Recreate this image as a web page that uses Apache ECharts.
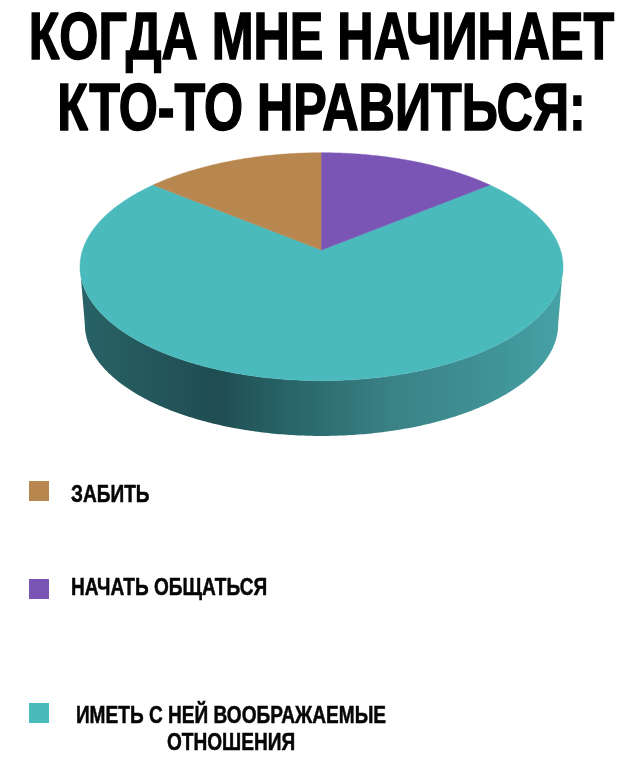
<!DOCTYPE html>
<html><head><meta charset="utf-8">
<script src="https://cdn.jsdelivr.net/npm/echarts@6/dist/echarts.min.js"></script>
<style>html,body{margin:0;padding:0;background:#fff}#c{width:644px;height:768px}</style></head>
<body><div id="c"></div>
<script>
const titleLines = ['КОГДА МНЕ НАЧИНАЕТ', 'КТО-ТО НРАВИТЬСЯ:'];
const categories = ['ЗАБИТЬ', 'НАЧАТЬ ОБЩАТЬСЯ', 'ИМЕТЬ С НЕЙ ВООБРАЖАЕМЫЕ\nОТНОШЕНИЯ'];
const shares = [14, 14, 72];
const colors = ['#B8874F', '#7A55B5', '#4BBABD'];
const rimStops = ['#286266', '#1F4D51', '#2A696D', '#3A8286', '#3F9296', '#46A1A4'];
const FONT = '"Liberation Sans",sans-serif';

// Slices run clockwise from 12 o'clock: purple, teal, then brown closes the circle.
const drawOrder = [1, 2, 0];
const total = shares.reduce((a, b) => a + b, 0);
const ranges = {};
let acc = 0;
drawOrder.forEach(i => {
  const start = acc / total * Math.PI * 2;
  acc += shares[i];
  ranges[i] = [start, acc / total * Math.PI * 2];
});

// Perspective projection of the disc
const CX = 321.5, CY = 250, A = 238.9, B = 111.5, K = 0.1465;
const RIM_SCALE = 0.98, RIM_DY = 57.9;
function project(t, rim) {
  const u = Math.sin(t), v = Math.cos(t), w = 1 + K * v;
  const s = rim ? RIM_SCALE : 1, dy = rim ? RIM_DY : 0;
  return [CX + s * A * u / w, CY - s * B * v / w + dy];
}
function arc(a, b, rim) {
  const pts = [], n = Math.max(2, Math.ceil(Math.abs(b - a) / 0.01));
  for (let i = 0; i <= n; i++) pts.push(project(a + (b - a) * i / n, rim));
  return pts;
}
const rimFrom = Math.acos(-K), rimTo = Math.PI * 2 - rimFrom;
const rimFill = new echarts.graphic.LinearGradient(85, 0, 558, 0,
  rimStops.map((c, i) => ({ offset: [0, 0.28, 0.46, 0.65, 0.85, 1][i], color: c })), true);

function sliceRenderer(idx) {
  return function () {
    const [a, b] = ranges[idx];
    const children = [];
    const ra = Math.max(a, rimFrom), rb = Math.min(b, rimTo);
    if (rb > ra) {
      children.push({
        type: 'polygon',
        shape: { points: arc(ra, rb, false).concat(arc(rb, ra, true)) },
        style: { fill: rimFill }
      });
    }
    children.push({
      type: 'polygon',
      shape: { points: [[CX, CY]].concat(arc(a, b, false)) },
      style: { fill: colors[idx], stroke: colors[idx], lineWidth: 0.5 }
    });
    return { type: 'group', children };
  };
}

function titleText(line, y, cx) {
  return {
    type: 'text', x: cx, y, scaleX: 0.75, silent: true,
    style: {
      text: line, font: 'bold 67px ' + FONT, fill: '#000',
      stroke: '#000', lineWidth: 1.6, align: 'center', verticalAlign: 'top'
    }
  };
}
function swatch(i, y) {
  return { type: 'rect', silent: true, shape: { x: 29, y, width: 20, height: 20 }, style: { fill: colors[i] } };
}
function legendText(i, x, y, align) {
  return {
    type: 'text', x, y, scaleX: 0.795, silent: true,
    style: {
      text: categories[i], font: 'bold 24px ' + FONT, fill: '#050505', stroke: '#050505', lineWidth: 0.5,
      lineHeight: 26.5, align, verticalAlign: 'middle'
    }
  };
}

const chart = echarts.init(document.getElementById('c'), null, { renderer: 'canvas' });
chart.setOption({
  animation: false,
  backgroundColor: '#fff',
  graphic: [
    titleText(titleLines[0], 7, 321.5),
    titleText(titleLines[1], 78, 321.5),
    swatch(0, 481), swatch(1, 579), swatch(2, 703),
    legendText(0, 71, 495, 'left'),
    legendText(1, 71, 588, 'left'),
    legendText(2, 231, 730, 'center')
  ],
  series: categories.map((name, i) => ({
    type: 'custom', name, coordinateSystem: 'none', silent: true,
    data: [shares[i]], renderItem: sliceRenderer(i), itemStyle: { color: colors[i] },
    z: i === 2 ? 2 : 3
  }))
});
</script></body></html>
